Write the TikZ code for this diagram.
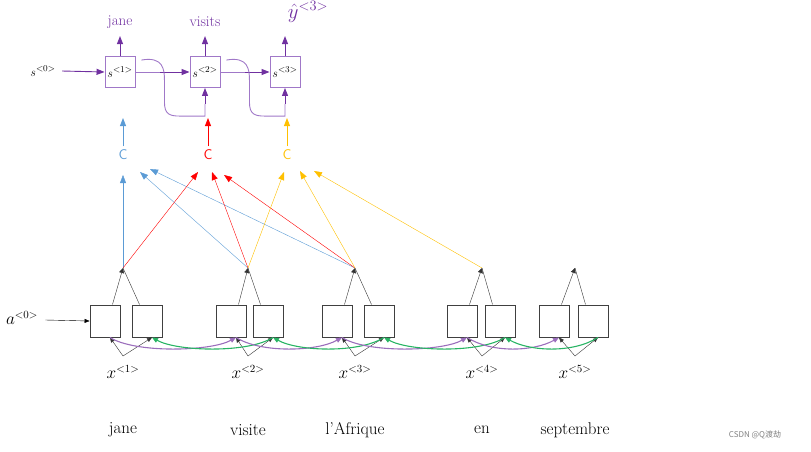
\documentclass[tikz,border=0pt]{standalone}
\usepackage{fontspec}
\newfontfamily\cjk{Noto Sans CJK SC}
\usetikzlibrary{arrows.meta}
\definecolor{pur}{RGB}{112,48,160}
\definecolor{lpur}{RGB}{160,120,200}
\definecolor{cblue}{RGB}{91,155,213}
\definecolor{cyel}{RGB}{255,192,0}
\definecolor{cgreen}{RGB}{40,180,100}
\begin{document}
\begin{tikzpicture}[x=1pt,y=-1pt,
 enc/.style={draw=black!75,line width=0.9pt,minimum width=30pt,minimum height=32pt,inner sep=0pt},
 dec/.style={draw=lpur,line width=0.9pt,minimum width=30pt,minimum height=31pt,inner sep=0pt,font=\fontsize{13}{14}\selectfont},
 tip/.style={-{Triangle[width=6pt,length=8pt]}},
 word/.style={font=\fontsize{17}{20}\selectfont},
 cc/.style={font=\fontsize{14}{16}\sffamily}]
\useasboundingbox (0,0) rectangle (811,451);
% encoder boxes
\foreach \n/\x in {1a/105,1b/147,2a/231,2b/268,3a/337,3b/379,4a/462,4b/500,5a/554,5b/593}
  \node[enc] (e\n) at (\x,321) {};
\foreach \n/\x in {1/123,2/248,3/355,4/482,5/575}{
  \coordinate (t\n) at (\x,268);
  \coordinate (b\n) at (\x,356);
  \draw[black!80,-{Triangle[width=5pt,length=5pt]}] (e\n a.north east)++(-8,0) -- (t\n);
  \draw[black!80] (e\n b.north west)++(8,0) -- (t\n);
  \draw[black!80,-{Triangle[width=4pt,length=5pt]}] (b\n) -- ([xshift=5pt]e\n a.south);
  \draw[black!80,-{Triangle[width=4pt,length=5pt]}] (b\n) -- ([xshift=5pt]e\n b.south);
}
\foreach \n/\x/\w in {1/123/jane,2/248/visite,3/355/l'Afrique,4/482/en,5/575/septembre}{
  \node[font=\fontsize{16}{18}\selectfont] (x\n) at (\x,372) {$x^{<\n>}$};
  \node[word] (w\n) at (\x,430) {\w};
}
\node[font=\fontsize{16}{18}\selectfont] (a0) at (22,318) {$a^{<0>}$};
\draw[-{Triangle[width=4pt,length=5pt]}] (a0.east)++(4,2) -- (e1a.west);
% bidirectional connections
\foreach \i/\j in {1/2,2/3,3/4,4/5}{
  \draw[pur!70,line width=1.1pt,-{Triangle[width=5pt,length=6pt]}] ([xshift=5pt]e\i a.south) .. controls +(25,16) and +(-25,14) .. ([xshift=5pt]e\j a.south);
  \draw[cgreen,line width=1.1pt,-{Triangle[width=5pt,length=6pt]}] ([xshift=5pt]e\j b.south) .. controls +(-25,16) and +(25,14) .. ([xshift=5pt]e\i b.south);
}
% context nodes
\node[cc,text=cblue] (c1) at (123,155) {C};
\node[cc,text=red] (c2) at (208,155) {C};
\node[cc,text=cyel] (c3) at (287,155) {C};
% attention
\draw[cblue,tip] (t1) -- (123,175);
\draw[cblue,tip] (t2) -- (140,172);
\draw[cblue,tip] (t3) -- (150,169);
\draw[red,tip] (t1) -- (198,172);
\draw[red,tip] (t2) -- (212,172);
\draw[red,tip] (t3) -- (224,175);
\draw[cyel,tip] (t2) -- (284,172);
\draw[cyel,tip] (t3) -- (300,171);
\draw[cyel,tip] (t4) -- (314,171);
% decoder
\node[dec] (s1) at (120,72) {$s^{<1>}$};
\node[dec] (s2) at (205,72) {$s^{<2>}$};
\node[dec] (s3) at (285,72) {$s^{<3>}$};
\node[font=\fontsize{13}{14}\selectfont] (s0) at (43,71) {$s^{<0>}$};
\draw[pur,tip,line width=0.9pt] (s0.east)++(3,0) -- (s1.west);
\draw[lpur,line width=0.9pt] (s1.east) -- ++(25,0) coordinate (m1);
\draw[pur,tip,line width=0.9pt] (m1) -- (s2.west);
\draw[lpur,line width=0.9pt] (s2.east) -- ++(25,0) coordinate (m2);
\draw[pur,tip,line width=0.9pt] (m2) -- (s3.west);
\foreach \i/\j in {1/2,2/3}{
  \draw[lpur,line width=0.9pt] ([xshift=6pt,yshift=-4pt]s\i.north east) .. controls +(22,-4) and +(0,-10) .. ++(23,20) -- ++(0,22) coordinate (q\i) .. controls +(0,12) and +(-10,0) .. ++(15,14) -| ([yshift=-16pt]s\j.south);
  \draw[pur,tip,line width=0.9pt] ([yshift=-16pt]s\j.south) -- (s\j.south);
}
\draw[cblue,tip,line width=0.9pt] (c1.north) -- (123,118);
\draw[red,tip,line width=0.9pt] (c2.north) -- (208,118);
\draw[cyel,tip,line width=0.9pt] (c3.north) -- (287,118);
\node[text=pur,font=\fontsize{15}{17}\selectfont] (y1) at (120,22) {jane};
\node[text=pur,font=\fontsize{15}{17}\selectfont] (y2) at (205,22) {visits};
\node[text=pur,font=\fontsize{20}{22}\selectfont] (y3) at (308,12) {$\hat{y}^{<3>}$};
\foreach \i in {1,2,3} \draw[pur,tip,line width=0.9pt] (s\i.north) -- ++(0,-20);
\node[text=gray,font=\cjk\footnotesize] (wm) at (755,435) {CSDN @Q渡劫};
\end{tikzpicture}
\end{document}
